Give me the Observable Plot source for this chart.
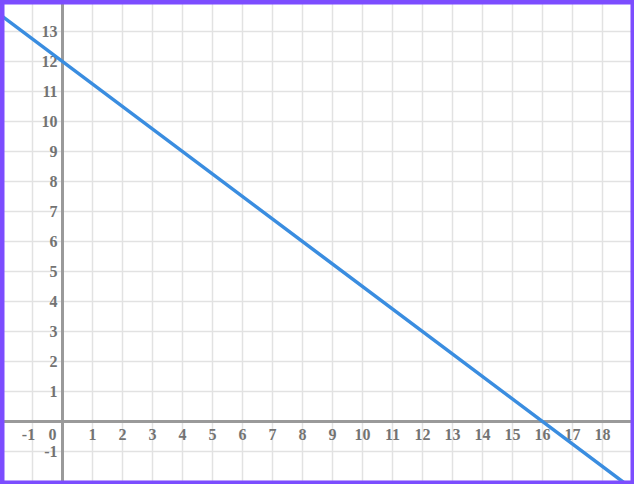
<!DOCTYPE html>
<html>
<head>
<meta charset="utf-8">
<script src="https://cdn.jsdelivr.net/npm/d3@7"></script>
<script src="https://cdn.jsdelivr.net/npm/@observablehq/plot@0.6"></script>
<style>
  html, body { margin: 0; padding: 0; background: #fff; }
  svg { display: block; }
</style>
</head>
<body>
<div id="chart"></div>
<script>
// Grid lines (every unit)
const gridX = [-2, -1, 0, 1, 2, 3, 4, 5, 6, 7, 8, 9, 10, 11, 12, 13, 14, 15, 16, 17, 18, 19];
const gridY = [-2, -1, 0, 1, 2, 3, 4, 5, 6, 7, 8, 9, 10, 11, 12, 13, 14];
// Tick labels
const xTicksPos = [1, 2, 3, 4, 5, 6, 7, 8, 9, 10, 11, 12, 13, 14, 15, 16, 17, 18];
const xTicksNeg = [-1];
const xTickZero = [0];
const yTicks = [-1, 1, 2, 3, 4, 5, 6, 7, 8, 9, 10, 11, 12, 13];
// Line y = 12 - 0.75x, endpoints
const lineX = [-2.2, 19.2];
const lineY = [13.65, -2.4];
const linePts = lineX.map((x, i) => ({x, y: lineY[i]}));

const labelFont = '"Liberation Serif", "DejaVu Serif", serif';
const labelColor = "#737373";
const fs = 16;

const xl = (arr, dx) => Plot.text(arr.map(v => ({v, y0: 0})), {
  x: "v", y: "y0", dy: 13, dx, text: d => String(d.v),
  fill: labelColor, fontFamily: labelFont, fontWeight: "bold", fontSize: fs
});

const chart = Plot.plot({
  width: 634,
  height: 484,
  margin: 0,
  x: {domain: [-62 / 30, 572 / 30], axis: null},
  y: {domain: [-63 / 30, 421 / 30], axis: null},
  style: {background: "#fff"},
  marks: [
    Plot.ruleX(gridX, {stroke: "#e2e2e2", strokeWidth: 1.5}),
    Plot.ruleY(gridY, {stroke: "#e2e2e2", strokeWidth: 1.5}),
    Plot.ruleX([0], {stroke: "#9a9a9a", strokeWidth: 3}),
    Plot.ruleY([0], {stroke: "#9a9a9a", strokeWidth: 3}),
    xl(xTicksPos, 0),
    xl(xTicksNeg, -4),
    xl(xTickZero, -10),
    Plot.text(yTicks.map(v => ({v, x0: 0})), {x: "x0", y: "v", dx: -5, textAnchor: "end", text: d => String(d.v),
      fill: labelColor, fontFamily: labelFont, fontWeight: "bold", fontSize: fs}),
    Plot.line(linePts, {x: "x", y: "y", stroke: "#3a8de0", strokeWidth: 3.5, clip: true}),
    Plot.frame({stroke: "#7c4dff", strokeWidth: 8})
  ]
});
document.getElementById("chart").appendChild(chart);
</script>
</body>
</html>
